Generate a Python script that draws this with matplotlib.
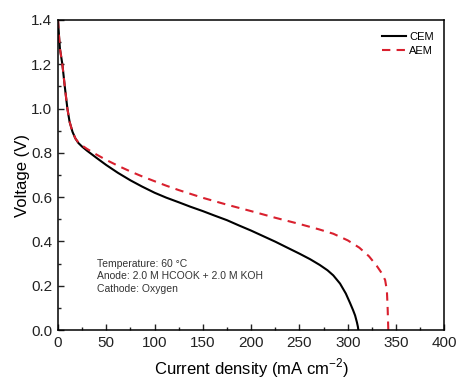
import numpy as np
import matplotlib
matplotlib.use('Agg')
import matplotlib.pyplot as plt
from matplotlib.ticker import MultipleLocator

plt.rcParams['font.family'] = ['Liberation Sans', 'DejaVu Sans']

# polarization curves
cem_j = [0, 1, 2, 4.5, 7, 9.7, 12, 15, 18, 21, 25, 30, 40, 50, 62, 75, 87, 100,
         112, 125, 137, 150, 162, 175, 187, 200, 212, 225, 237, 250, 261, 271, 279,
         285, 292, 298, 302.4, 305.5, 307.6, 309.5, 310.5, 311]
cem_v = [1.4, 1.33, 1.27, 1.2, 1.1, 1.0, 0.94, 0.895, 0.865, 0.845, 0.828, 0.81,
         0.777, 0.745, 0.71, 0.676, 0.648, 0.62, 0.598, 0.577, 0.557, 0.537, 0.517,
         0.496, 0.473, 0.449, 0.425, 0.399, 0.373, 0.345, 0.32, 0.294, 0.27, 0.247,
         0.21, 0.165, 0.122, 0.09, 0.066, 0.035, 0.015, 0.0]

aem_j = [0, 1, 2, 4.5, 7, 9.7, 12, 15, 18, 22, 30, 40, 50, 62, 75, 87, 100, 112,
         125, 150, 175, 200, 225, 250, 270, 285, 300, 312, 322, 330, 335, 338.7,
         340.5, 341.3, 342]
aem_v = [1.4, 1.33, 1.27, 1.2, 1.1, 1.0, 0.94, 0.895, 0.865, 0.842, 0.818, 0.792,
         0.768, 0.742, 0.716, 0.694, 0.672, 0.652, 0.632, 0.597, 0.566, 0.537, 0.507,
         0.479, 0.455, 0.435, 0.405, 0.372, 0.333, 0.29, 0.258, 0.226, 0.18, 0.1,
         0.0]

notes = ['Temperature: 60 \u00b0C', 'Anode: 2.0 M HCOOK + 2.0 M KOH', 'Cathode: Oxygen']

fig = plt.figure(figsize=(4.74, 3.92), dpi=100)
ax = fig.add_axes([0.1224, 0.158, 0.815, 0.791])

ax.plot(cem_j, cem_v, color='black', lw=1.5, label='CEM')
ax.plot(aem_j, aem_v, color='#d9202e', lw=1.5, dashes=(4, 3), label='AEM')

ax.set_xlim(0, 400)
ax.set_ylim(0, 1.4)
ax.xaxis.set_major_locator(MultipleLocator(50))
ax.xaxis.set_minor_locator(MultipleLocator(25))
ax.yaxis.set_major_locator(MultipleLocator(0.2))
ax.yaxis.set_minor_locator(MultipleLocator(0.1))
ax.yaxis.set_major_formatter(plt.FormatStrFormatter('%.1f'))
ax.tick_params(which='both', direction='in', top=False, right=False, labelsize=11,
               colors='#222222')
ax.tick_params(which='major', length=4, width=1, pad=4)
ax.tick_params(which='minor', length=2.5, width=1)
for s in ax.spines.values():
    s.set_linewidth(1.1)

ax.set_xlabel('Current density (mA cm$^{\\mathregular{-2}}$)', fontsize=12, labelpad=5)
ax.set_ylabel('Voltage (V)', fontsize=12, labelpad=1)

ax.legend(loc='upper right', bbox_to_anchor=(0.985, 0.975), frameon=False,
          fontsize=8, handlelength=2.2, handletextpad=0.3, labelspacing=0.3,
          borderaxespad=0)

for i, t in enumerate(notes):
    ax.text(40, 0.298 - i * 0.056, t, fontsize=7.5, color='#333333', va='center')

fig.savefig('out.png', dpi=100, facecolor='white')
